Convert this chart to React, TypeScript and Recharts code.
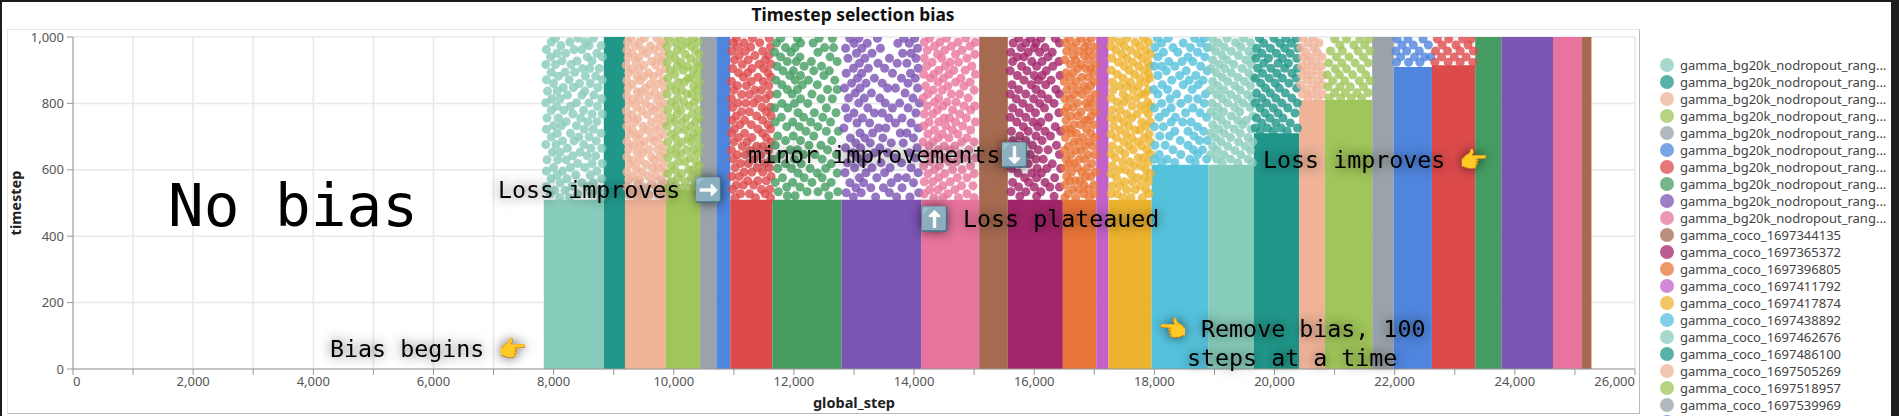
import React from "react";
import {
  CartesianGrid,
  ComposedChart,
  ReferenceArea,
  Scatter,
  XAxis,
  YAxis,
  ZAxis,
} from "recharts";

const palette = [
  "#88ccbc", "#21978a", "#efb398", "#a0c55a", "#9aa3a9", "#4f85dd", "#dd4a4c", "#459d62",
  "#7c54b4", "#e8749d", "#a56a50", "#a3266a", "#e87438", "#c261c7", "#eeb32e", "#55c2dc",
];

// where each run sits on global_step, and how far up its points are packed solid
const runStarts = [7837, 8835, 9188, 9867, 10438, 10709, 10940, 11640, 12795, 14125, 15083, 15560, 16476, 17032, 17236, 17953, 18895, 19655, 20410, 20838, 21625, 21985, 22620, 23340, 23775, 24635, 25118];
const runEnds = [8835, 9188, 9867, 10438, 10709, 10940, 11640, 12795, 14125, 15083, 15560, 16476, 17032, 17236, 17953, 18895, 19655, 20410, 20838, 21625, 21985, 22620, 23340, 23775, 24635, 25118, 25275];
const denseTops = [510, 1000, 510, 540, 1000, 1000, 510, 510, 510, 510, 1000, 510, 510, 1000, 510, 615, 615, 710, 810, 810, 1000, 910, 915, 1000, 1000, 1000, 1000];

const run01 = [
  [996, 8030, 8410, 8660], [985, 7960, 8270, 8530], [974, 8120, 8590, 8790], [962, 7880, 8340, 8470], [951, 8060, 8200, 8720], [940, 7950, 8560, 8810],
  [928, 8140, 8390, 8640], [917, 7870, 8030, 8290], [905, 8480, 8600, 8760], [894, 7960, 8190, 8350], [882, 8080, 8530, 8700], [871, 7880, 8260, 8810],
  [860, 8000, 8430, 8610], [848, 8160, 8330, 8740], [837, 7900, 8060, 8520], [825, 8230, 8470, 8670], [814, 7970, 8110, 8800], [802, 7870, 8380, 8590],
  [791, 8050, 8280, 8730], [779, 7960, 8170, 8500], [768, 8320, 8640, 8810], [756, 7890, 8080, 8450], [745, 8210, 8570, 8720], [733, 8000, 8130, 8380],
  [722, 7880, 8510, 8660], [710, 8060, 8280, 8790], [699, 7960, 8420, 8590], [687, 8150, 8340, 8710], [676, 7870, 8040, 8500], [665, 8230, 8620, 8800],
  [653, 7980, 8110, 8440], [642, 8320, 8560, 8700], [630, 7890, 8070, 8210], [619, 8400, 8640, 8810], [607, 8000, 8280, 8520], [596, 7880, 8150, 8720],
  [584, 8060, 8370, 8610], [573, 7960, 8220, 8800], [561, 8110, 8470, 8660], [550, 7880, 8310, 8560], [538, 8020, 8190, 8740], [527, 7940, 8400, 8630], [516, 8100, 8260, 8790],
];
const run03 = [
  [996, 9280, 9510, 9720], [984, 9230, 9420, 9830], [973, 9360, 9610, 9770], [961, 9480, 9220, 9680], [950, 9310, 9550, 9830], [938, 9240, 9420, 9740],
  [927, 9370, 9630, 9810], [915, 9210, 9500, 9700], [904, 9320, 9430, 9850], [892, 9250, 9580, 9760], [881, 9390, 9500, 9660], [869, 9220, 9440, 9820],
  [858, 9310, 9610, 9730], [846, 9240, 9530, 9850], [835, 9390, 9460, 9680], [823, 9220, 9580, 9790], [812, 9320, 9430, 9720], [800, 9260, 9530, 9840],
  [789, 9380, 9620, 9760], [777, 9210, 9470, 9680], [766, 9310, 9560, 9820], [754, 9240, 9400, 9730], [743, 9350, 9630, 9850], [731, 9220, 9490, 9770],
  [720, 9310, 9560, 9690], [708, 9260, 9430, 9830], [697, 9380, 9620, 9750], [685, 9220, 9510, 9670], [674, 9330, 9440, 9810], [662, 9250, 9580, 9730],
  [651, 9390, 9490, 9850], [639, 9220, 9630, 9770], [628, 9320, 9440, 9680], [616, 9260, 9540, 9820], [605, 9380, 9650, 9740], [593, 9220, 9470, 9850],
  [582, 9330, 9570, 9700], [570, 9250, 9430, 9790], [559, 9400, 9630, 9840], [547, 9220, 9510, 9710], [536, 9330, 9440, 9820], [524, 9260, 9590, 9740], [514, 9390, 9500, 9840],
];
const run04 = [
  [996, 9910, 10110, 10320], [984, 10020, 10230, 10400], [972, 9890, 10140, 10290], [960, 10060, 10360], [948, 9930, 10190, 10420], [936, 10020, 10280],
  [924, 9890, 10120, 10380], [912, 10060, 10230, 10420], [900, 9940, 10160, 10320], [888, 10020, 10390], [876, 9900, 10240, 10290], [864, 10080, 10180, 10420],
  [852, 9950, 10330], [840, 10030, 10130, 10400], [828, 9890, 10220, 10300], [816, 10070, 10410], [804, 9960, 10170, 10340], [792, 10030, 10260],
  [780, 9900, 10120, 10400], [768, 10060, 10310], [756, 9950, 10200, 10420], [744, 10020, 10140, 10360], [732, 9890, 10280], [720, 10070, 10190, 10410],
  [708, 9960, 10330], [696, 10030, 10240, 10390], [684, 9900, 10140, 10290], [672, 10060, 10420], [660, 9950, 10210, 10330], [648, 10030, 10120, 10400],
  [636, 9900, 10270], [624, 10080, 10190, 10370], [612, 9960, 10420], [600, 10020, 10250, 10320], [588, 9900, 10130, 10400], [576, 10070, 10290],
  [564, 9960, 10190, 10420], [552, 10030, 10340], [544, 9900, 10130, 10260],
];
const run07 = [
  [996, 11040, 11310, 11590], [983, 11170, 11430, 10990], [970, 11280, 11610, 11070], [957, 10970, 11190, 11480], [944, 11350, 11580, 11090], [931, 11010, 11240, 11520],
  [918, 11140, 11420, 11620], [905, 10980, 11300, 11500], [892, 11080, 11230, 11570], [879, 11160, 11400, 11620], [866, 10960, 11290, 11490], [853, 11060, 11210, 11580],
  [840, 11350, 11460, 11000], [827, 11130, 11260, 11600], [814, 10960, 11400, 11530], [801, 11070, 11200, 11330], [788, 11470, 11610, 10980], [775, 11130, 11260, 11540],
  [762, 11040, 11380, 11620], [749, 10970, 11180, 11480], [736, 11100, 11290, 11570], [723, 11010, 11400, 11610], [710, 11180, 11480, 10960], [697, 11080, 11300, 11540],
  [684, 11000, 11220, 11620], [671, 11140, 11380, 11490], [658, 10960, 11270, 11580], [645, 11060, 11190, 11450], [632, 11340, 11620, 10990], [619, 11110, 11240, 11510],
  [606, 11020, 11390, 11590], [593, 11170, 11300, 11480], [580, 10970, 11090, 11620], [567, 11230, 11400, 11540], [554, 11040, 11160, 11330], [541, 10980, 11460, 11600],
  [528, 11110, 11260, 11520], [516, 11020, 11360, 11610],
];
const run08 = [
  [996, 11780, 12060, 12420, 12640], [982, 11710, 12110, 12320], [968, 11860, 12020, 12510, 12660], [954, 11680, 11950, 12400], [940, 11780, 12100, 12600],
  [926, 11890, 12040, 12290, 12720], [912, 11720, 12170, 12460], [898, 11820, 11990, 12330, 12590], [884, 11930, 12110, 12500], [870, 11700, 12020, 12240, 12680],
  [856, 11800, 12140, 12390], [842, 11890, 12060, 12560, 12720], [828, 11720, 11970, 12300], [814, 12110, 12450, 12640], [800, 11800, 12010, 12230], [786, 11680, 11900, 12540],
  [772, 12070, 12340, 12700], [758, 11790, 12160, 12480], [744, 11690, 11980, 12280, 12610], [730, 11880, 12090, 12400], [716, 12200, 12540, 12740], [702, 11730, 11990, 12330],
  [688, 11860, 12110, 12630], [674, 11690, 12250, 12450], [660, 11940, 12060, 12560], [646, 11780, 12160, 12350, 12710], [632, 11680, 12010, 12470], [618, 11860, 12120, 12620],
  [604, 11730, 11960, 12270, 12530], [590, 12070, 12390, 12720], [576, 11810, 12170, 12470], [562, 11690, 11980, 12300, 12620], [548, 11880, 12100, 12520], [534, 11740, 12220, 12400, 12730],
  [522, 11890, 12020, 12580],
];
const run09 = [
  [996, 12930, 13080, 13390, 13830, 14010], [981, 13000, 13220, 13730, 13920], [966, 12860, 13130, 13440, 14060], [951, 13040, 13300, 13810, 13950], [936, 12900, 13180, 13590, 14030],
  [921, 13090, 13400, 13720, 13880], [906, 12990, 13240, 13510, 14070], [891, 12870, 13130, 13640, 13940], [876, 13060, 13340, 13790, 14020], [861, 12960, 13200, 13470, 13900],
  [846, 12840, 13100, 13560, 13690, 14060], [831, 13020, 13290, 13850], [816, 12910, 13170, 13430, 13980], [801, 13080, 13520, 13760, 14090], [786, 12860, 13230, 13640, 13900],
  [771, 13000, 13340, 13470, 14030], [756, 12900, 13140, 13580, 13800], [741, 13050, 13260, 13690, 13950], [726, 12830, 13410, 13530, 14070], [711, 13100, 13310, 13770, 13880],
  [696, 12940, 13180, 13480, 13990], [681, 13030, 13270, 13620, 13820], [666, 12860, 13110, 13430, 14050], [651, 12980, 13340, 13560, 13920], [636, 13070, 13230, 13680, 14020],
  [621, 12890, 13140, 13450, 13790], [606, 13010, 13300, 13600, 13950], [591, 12850, 13200, 13510, 14070], [576, 13090, 13380, 13730, 13870], [561, 12930, 13160, 13620, 13990],
  [546, 13030, 13280, 13490, 13800], [531, 12870, 13120, 13590, 14080], [518, 12990, 13360, 13710, 13930],
];
const run10 = [
  [996, 14260, 14540, 14860], [984, 14170, 14430, 14730, 15020], [972, 14340, 14620, 14930], [960, 14220, 14510, 14800], [948, 14390, 14690, 15010], [936, 14170, 14460, 14880],
  [924, 14300, 14600, 14740], [912, 14210, 14520, 14960], [900, 14410, 14660, 14850], [888, 14160, 14330, 14580, 15020], [876, 14270, 14490, 14780], [864, 14400, 14690, 14930],
  [852, 14190, 14560, 14830], [840, 14320, 14470, 15000], [828, 14230, 14620, 14760], [816, 14150, 14410, 14900], [804, 14340, 14550, 14700], [792, 14220, 14480, 14830, 15010],
  [780, 14390, 14640, 14940], [768, 14170, 14310, 14760], [756, 14500, 14590, 14870], [744, 14250, 14410, 14690, 15020], [732, 14160, 14530, 14810], [720, 14340, 14640, 14940],
  [708, 14230, 14470, 14730], [696, 14400, 14580, 14880], [684, 14150, 14310, 14790, 15000], [672, 14250, 14500, 14680], [660, 14400, 14600, 14910], [648, 14190, 14330, 14760],
  [636, 14490, 14840, 15020], [624, 14270, 14580, 14700], [612, 14160, 14420, 14940], [600, 14340, 14640, 14800], [588, 14230, 14510, 15000], [576, 14410, 14720, 14880],
  [564, 14170, 14310, 14600], [552, 14480, 14790, 14980], [540, 14260, 14400, 14680], [528, 14170, 14560, 14880], [516, 14330, 14480, 14740, 15000],
];
const run12 = [
  [996, 15740, 15940, 16110, 16350], [982, 15650, 15860, 16030, 16420], [968, 15780, 16000, 16180], [954, 15610, 15900, 16090, 16300], [940, 15720, 15830, 16230],
  [926, 15640, 15960, 16130, 16410], [912, 15790, 16040, 16310], [898, 15600, 15880, 16200], [884, 15720, 16000, 16130, 16430], [870, 15830, 16070, 16280],
  [856, 15630, 15950, 16190], [842, 15740, 16030, 16360], [828, 15600, 15860, 16120, 16420], [814, 15700, 15990, 16230], [800, 15810, 16090, 16330], [786, 15640, 15920, 16170],
  [772, 15750, 16020, 16410], [758, 15600, 15860, 16240], [744, 15710, 15980, 16110], [730, 15820, 16060, 16350], [716, 15620, 15900, 16180, 16440], [702, 15760, 16030, 16270],
  [688, 15640, 15860, 16130], [674, 15740, 15970, 16370], [660, 15600, 16070, 16230], [646, 15820, 15930, 16420], [632, 15680, 16030, 16150], [618, 15770, 15900, 16300],
  [604, 15620, 16050, 16210, 16440], [590, 15730, 15960, 16120], [576, 15840, 16040, 16340], [562, 15640, 15910, 16180], [548, 15740, 16000, 16260, 16420], [534, 15610, 15860, 16110],
  [520, 15760, 16040, 16330],
];
const run13 = [
  [996, 16580, 16780, 16950], [983, 16520, 16700, 16880], [970, 16630, 16840, 17000], [957, 16540, 16740, 16900], [944, 16650, 16830, 16980], [931, 16510, 16690, 16900],
  [918, 16600, 16780, 17010], [905, 16720, 16860, 16940], [892, 16530, 16650, 16980], [879, 16790, 16900, 16590], [866, 16500, 16700, 17000], [853, 16620, 16830, 16940],
  [840, 16540, 16730, 16880], [827, 16660, 16800, 17010], [814, 16510, 16930, 16600], [801, 16720, 16860, 16980], [788, 16550, 16650, 16900], [775, 16500, 16780, 17010],
  [762, 16610, 16720, 16950], [749, 16530, 16840, 16900], [736, 16660, 16770, 16990], [723, 16510, 16590, 16870], [710, 16700, 16940, 16620], [697, 16520, 16810, 17010],
  [684, 16660, 16740, 16910], [671, 16570, 16850, 16980], [658, 16500, 16690, 16780], [645, 16610, 16900, 17010], [632, 16530, 16750, 16840], [619, 16660, 16960, 16590],
  [606, 16510, 16720, 16880], [593, 16620, 16790, 17010], [580, 16540, 16860, 16940], [567, 16680, 16760, 16590], [554, 16510, 16830, 16990], [541, 16640, 16740, 16900], [528, 16560, 16820, 17000], [516, 16690, 16920, 16510],
];
const run15 = [
  [996, 17300, 17540, 17820], [984, 17420, 17680, 17900], [972, 17280, 17500, 17760], [960, 17360, 17610, 17860], [948, 17460, 17720, 17930], [936, 17290, 17540, 17800],
  [924, 17400, 17640, 17890], [912, 17500, 17740, 17930], [900, 17280, 17580, 17830], [888, 17380, 17670, 17900], [876, 17480, 17760, 17920], [864, 17300, 17600, 17850],
  [852, 17420, 17540, 17730], [840, 17310, 17650, 17900], [828, 17480, 17790, 17840], [816, 17280, 17570, 17700], [804, 17380, 17490, 17890], [792, 17630, 17770, 17930],
  [780, 17300, 17430, 17840], [768, 17540, 17710, 17900], [756, 17280, 17390, 17620], [744, 17490, 17790, 17930], [732, 17320, 17570, 17860], [720, 17430, 17680, 17760],
  [708, 17280, 17530, 17910], [696, 17370, 17620, 17830], [684, 17490, 17720, 17930], [672, 17300, 17580, 17790], [660, 17420, 17650, 17880], [648, 17280, 17510, 17930],
  [636, 17350, 17730, 17820], [624, 17470, 17590, 17900], [612, 17300, 17660, 17780], [600, 17410, 17520, 17860], [588, 17280, 17610, 17930], [576, 17370, 17720, 17840],
  [564, 17500, 17630, 17900], [552, 17300, 17420, 17770], [540, 17540, 17680, 17860], [528, 17280, 17380, 17910], [516, 17480, 17610, 17800],
];
const run16 = [
  [996, 18050, 18230, 18670, 18830], [982, 18120, 18480, 18770], [968, 18010, 18310, 18600, 18880], [954, 18150, 18390, 18720], [940, 18060, 18560, 18840], [926, 18240, 18460, 18640],
  [912, 18000, 18120, 18340, 18770], [898, 18200, 18530, 18880], [884, 18060, 18420, 18690], [870, 18290, 18810, 18580], [856, 18130, 18480, 18730], [842, 17990, 18220, 18630],
  [828, 18060, 18370, 18850], [814, 18260, 18560, 18720], [800, 18120, 18440, 18830], [786, 18000, 18280, 18640], [772, 18180, 18520, 18760], [758, 18080, 18350, 18870], [744, 18280, 18610, 18470],
  [730, 18000, 18150, 18720], [716, 18340, 18560, 18820], [702, 18090, 18250, 18660], [688, 18430, 18750, 18880], [674, 18010, 18180, 18560], [660, 18310, 18650, 18800], [646, 18080, 18440, 18720],
  [632, 18000, 18210, 18590, 18870], [622, 18120, 18340, 18680],
];
const run17 = [
  [996, 18960, 19210, 19480], [983, 19060, 19350, 19600], [970, 18940, 19160, 19440], [957, 19020, 19280, 19570], [944, 19130, 19400, 19640], [931, 18970, 19210, 19520],
  [918, 19080, 19320, 19610], [905, 18940, 19170, 19460], [892, 19030, 19280, 19570], [879, 19130, 19390, 19640], [866, 18970, 19220, 19500], [853, 19060, 19340, 19600],
  [840, 18930, 19160, 19430], [827, 19040, 19270, 19550], [814, 19130, 19380, 19630], [801, 18960, 19220, 19480], [788, 19060, 19340, 19590], [775, 18940, 19150, 19420],
  [762, 19030, 19280, 19640], [749, 19120, 19390, 19530], [736, 18970, 19210, 19470], [723, 19070, 19330, 19610], [710, 18940, 19160, 19430], [697, 19020, 19270, 19560],
  [684, 19110, 19400, 19640], [671, 18970, 19220, 19510], [658, 19050, 19340, 19600], [645, 18930, 19160, 19440], [632, 19040, 19270, 19560], [621, 19130, 19390, 19630],
];
const run18 = [
  [996, 19750, 19990, 20190, 20360], [981, 19820, 20090, 20280], [966, 19700, 19930, 20170, 20390], [951, 19790, 20030, 20260], [936, 19690, 19900, 20130, 20370], [921, 19820, 20060, 20230],
  [906, 19720, 19940, 20170, 20380], [891, 19800, 20040, 20290], [876, 19680, 19910, 20130, 20360], [861, 19770, 20010, 20240], [846, 19850, 20080, 20370], [831, 19700, 19930, 20180],
  [816, 19790, 20020, 20290], [801, 19680, 19870, 20120, 20380], [786, 19760, 19980, 20220], [771, 19840, 20060, 20340], [756, 19700, 19920, 20140], [741, 19790, 20020, 20260], [726, 19680, 19880, 20110, 20380], [716, 19760, 19980, 20210],
];
const run19 = [
  [996, 20470, 20640], [982, 20560, 20740], [968, 20440, 20650], [954, 20520, 20710], [940, 20470, 20600, 20790], [926, 20540, 20690], [912, 20450, 20620, 20780], [898, 20530, 20700],
  [884, 20460, 20610, 20800], [870, 20550, 20720], [856, 20440, 20640, 20790], [842, 20530, 20700], [828, 20460, 20620, 20800], [816, 20560, 20720],
];
const run20 = [
  [994, 21000, 21200, 21420, 21570], [976, 21090, 21320, 21500], [958, 20930, 21130, 21390, 21590], [940, 21030, 21240, 21480], [922, 20900, 21120, 21340, 21560], [904, 21010, 21200, 21440],
  [886, 20880, 21080, 21300, 21520], [868, 20970, 21170, 21410, 21590], [850, 20890, 21090, 21260, 21480], [832, 21000, 21180, 21370, 21560], [816, 20910, 21100, 21280, 21450],
];
const run22 = [
  [994, 22040, 22220, 22470], [976, 22120, 22310, 22560], [958, 22020, 22200, 22410], [940, 22100, 22330, 22500, 22600], [924, 22030, 22230, 22420],
];
const run23 = [
  [994, 22710, 22900, 23130, 23270], [976, 22790, 23020, 23220], [958, 22680, 22880, 23090, 23310], [940, 22780, 22990, 23190], [924, 22670, 22890, 23090, 23300],
];
const sparseByRun = [run01, [], run03, run04, [], [], run07, run08, run09, run10, [], run12, run13, [], run15, run16, run17, run18, run19, run20, [], run22, run23, [], [], [], []];

const legendNames = [
  ...Array(10).fill("gamma_bg20k_nodropout_rang..."),
  "gamma_coco_1697344135", "gamma_coco_1697365372", "gamma_coco_1697396805", "gamma_coco_1697411792",
  "gamma_coco_1697417874", "gamma_coco_1697438892", "gamma_coco_1697462676", "gamma_coco_1697486100",
  "gamma_coco_1697505269", "gamma_coco_1697518957", "gamma_coco_1697539969", "",
];

const xTicks = [0, 1000, 2000, 3000, 4000, 5000, 6000, 7000, 8000, 9000, 10000, 11000, 12000, 13000, 14000, 15000, 16000, 17000, 18000, 19000, 20000, 21000, 22000, 23000, 24000, 25000, 26000];
const yTicks = [0, 200, 400, 600, 800, 1000];

const notes = [
  { text: "No bias", x: 168, y: 226, size: 59.3, glow: false },
  { text: "Bias begins 👉", x: 330, y: 356.5, size: 23.3, glow: true },
  { text: "Loss improves ➡️", x: 498, y: 198, size: 23.3, glow: true },
  { text: "minor improvements⬇️", x: 748, y: 163, size: 23.3, glow: true },
  { text: "⬆️ Loss plateaued", x: 920, y: 226.5, size: 23.3, glow: true },
  { text: "Loss improves 👉", x: 1263, y: 167.5, size: 23.3, glow: true },
  { text: "👈 Remove bias, 100", x: 1158, y: 336.5, size: 23.3, glow: true },
  { text: "steps at a time", x: 1187, y: 366, size: 23.3, glow: true },
];

const UI_FONT = "'Noto Sans', sans-serif";

const rowsToPoints = (rows: number[][]) =>
  rows.flatMap(([timestep, ...steps]) => steps.map((global_step) => ({ global_step, timestep })));

const StepTick = ({ x, y, payload }: any) => {
  const v = payload.value;
  if (v % 2000 !== 0) return null;
  const anchor = v === 0 ? "start" : v === 26000 ? "end" : "middle";
  return (
    <text x={x} y={y + 9} dy={0} textAnchor={anchor} fontFamily={UI_FONT} fontSize={13} fill="#555">
      {v.toLocaleString("en-US")}
    </text>
  );
};

export default function App() {
  return (
    <div style={{ position: "fixed", left: 0, top: 0, width: 1899, height: 416, overflow: "hidden", background: "#fff" }}>
      <div style={{ position: "absolute", left: 7, top: 29, width: 1631, height: 383, borderLeft: "1px solid #e6e6e6", borderTop: "1px solid #e6e6e6", borderRight: "1px solid #bbb", borderBottom: "1px solid #bbb" }} />

      <ComposedChart
        width={1899}
        height={416}
        margin={{ top: 37, right: 264, bottom: 0, left: 0 }}
        style={{ position: "absolute", left: 0, top: 0 }}
      >
        <CartesianGrid stroke="#e8e8e8" strokeWidth={1.5} />
        <XAxis
          type="number"
          dataKey="global_step"
          domain={[0, 26000]}
          ticks={xTicks}
          interval={0}
          allowDataOverflow
          height={47}
          stroke="#999"
          tickSize={6}
          tick={<StepTick />}
        />
        <YAxis
          type="number"
          dataKey="timestep"
          domain={[0, 1000]}
          ticks={yTicks}
          interval={0}
          allowDataOverflow
          width={73}
          stroke="#999"
          tickSize={6}
          tickMargin={3}
          tickFormatter={(v: number) => v.toLocaleString("en-US")}
          tick={{ fontFamily: UI_FONT, fontSize: 13, fill: "#555" }}
        />
        <ZAxis range={[58, 58]} />
        {runStarts.map((start, i) => (
          <ReferenceArea
            key={"band" + i}
            x1={start}
            x2={runEnds[i]}
            y1={0}
            y2={denseTops[i]}
            fill={palette[i % palette.length]}
            fillOpacity={1}
            stroke="none"
          />
        ))}
        {sparseByRun.map((rows, i) => (
          <Scatter
            key={"run" + i}
            data={rowsToPoints(rows as number[][])}
            fill={palette[i % palette.length]}
            fillOpacity={0.8}
            isAnimationActive={false}
          />
        ))}
      </ComposedChart>

      <svg width={1899} height={416} style={{ position: "absolute", left: 0, top: 0, pointerEvents: "none" }}>
        <text x={853} y={21} textAnchor="middle" fontFamily={UI_FONT} fontWeight={700} fontSize={17.4} fill="#111">Timestep selection bias</text>
        <text x={854} y={408} textAnchor="middle" fontFamily={UI_FONT} fontWeight={700} fontSize={14.5} fill="#222">global_step</text>
        <text transform="translate(21,203) rotate(-90)" textAnchor="middle" fontFamily={UI_FONT} fontWeight={700} fontSize={14.5} fill="#222">timestep</text>
        {notes.map((n) => (
          <text
            key={n.text}
            x={n.x}
            y={n.y}
            fontFamily="'DejaVu Sans Mono', monospace"
            fontSize={n.size}
            fill="#000"
            style={n.glow ? { filter: "drop-shadow(0 0 6px rgba(0,0,0,0.65))" } : undefined}
          >
            {n.text}
          </text>
        ))}
      </svg>

      {legendNames.map((name, i) => (
        <div key={i} style={{ position: "absolute", left: 1660, top: 56.5 + i * 17, height: 17, display: "flex", alignItems: "center", whiteSpace: "nowrap" }}>
          <span style={{ width: 14, height: 14, borderRadius: "50%", background: palette[i % palette.length], opacity: 0.75, marginRight: 6 }} />
          <span style={{ fontFamily: UI_FONT, fontSize: 13, color: "#444" }}>{name}</span>
        </div>
      ))}

      <div style={{ position: "absolute", left: 0, top: 0, width: 1899, height: 2, background: "#1b1c1e" }} />
      <div style={{ position: "absolute", left: 0, top: 0, width: 2, height: 416, background: "#1b1c1e" }} />
      <div style={{ position: "absolute", left: 1891, top: 0, width: 8, height: 416, background: "#1b1c1e" }} />
    </div>
  );
}
